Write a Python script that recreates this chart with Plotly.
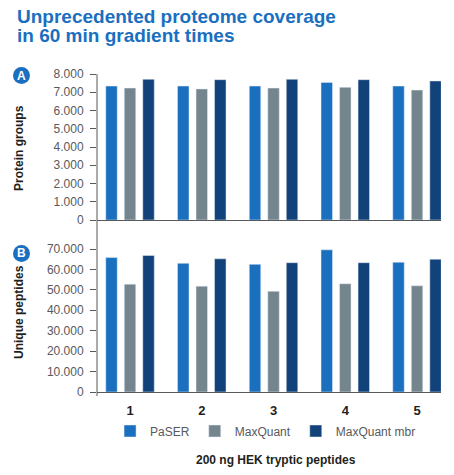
"""
PaSER vs MaxQuant: Protein groups / Unique peptides (60 min gradient).
"""

import plotly.graph_objects as go

runs = ["1", "2", "3", "4", "5"]
series_names = ["PaSER", "MaxQuant", "MaxQuant mbr"]

protein_paser = [7340, 7340, 7340, 7540, 7340]
protein_mq = [7230, 7180, 7230, 7270, 7120]
protein_mbr = [7710, 7690, 7710, 7690, 7620]

peptide_paser = [65800, 63000, 62500, 69600, 63500]
peptide_mq = [52800, 51800, 49300, 53000, 52000]
peptide_mbr = [66800, 65200, 63300, 63300, 65000]

protein_ticks = [0, 1000, 2000, 3000, 4000, 5000, 6000, 7000, 8000]
peptide_ticks = [0, 10000, 20000, 30000, 40000, 50000, 60000, 70000]

COLORS = ["#1b6fbf", "#75858e", "#12427a"]
BLUE = "#1a6fc0"
GREY = "#58595b"
DARK = "#231f20"
FONT = "Liberation Sans, Arial, sans-serif"

# pixel layout helpers
W, H = 454, 475
L, R, T, B = 97, 13, 74, 83
PH = H - T - B  # plot height in px


def py(px_y):
    """page pixel y -> paper y"""
    return (H - B - px_y) / PH


fig = go.Figure()

for name, vals, col in zip(series_names, [protein_paser, protein_mq, protein_mbr], COLORS):
    fig.add_trace(go.Bar(x=runs, y=vals, name=name, marker_color=col,
                         legendgroup=name, showlegend=False,
                         xaxis="x", yaxis="y"))
for name, vals, col in zip(series_names, [peptide_paser, peptide_mq, peptide_mbr], COLORS):
    fig.add_trace(go.Bar(x=runs, y=vals, name=name, marker_color=col,
                         legendgroup=name, showlegend=True,
                         xaxis="x2", yaxis="y2"))

xcommon = dict(
    type="category", range=[-0.46, 4.334], showline=True, linecolor=GREY,
    linewidth=1, ticks="", showgrid=False, zeroline=False, fixedrange=True,
)
ycommon = dict(
    showline=False, ticks="outside", ticklen=6, tickwidth=1, tickcolor=GREY,
    tickfont=dict(family=FONT, size=12, color=GREY), showgrid=False,
    zeroline=False, tickformat=",d", ticklabelstandoff=4,
)

fig.update_layout(
    width=W, height=H,
    margin=dict(l=L, r=R, t=T, b=B),
    paper_bgcolor="white", plot_bgcolor="white",
    separators=",.",
    barmode="group", bargap=0.226, bargroupgap=0.38,
    font=dict(family=FONT, size=12, color=GREY),
    xaxis=dict(**xcommon, anchor="y", domain=[0, 1], showticklabels=False),
    yaxis=dict(**ycommon, anchor="x", domain=[py(220), 1], range=[0, 8000],
               tickvals=protein_ticks),
    xaxis2=dict(**xcommon, anchor="y2", domain=[0, 1], showticklabels=True,
                tickfont=dict(family=FONT, size=13, color=DARK, weight="bold"),
                ticklabelstandoff=6),
    yaxis2=dict(**ycommon, anchor="x2", domain=[0, py(249)], range=[0, 70000],
                tickvals=peptide_ticks),
    legend=dict(orientation="h", x=0.49, xanchor="center", y=py(431),
                yanchor="middle", font=dict(family=FONT, size=12, color=GREY),
                bgcolor="rgba(0,0,0,0)", traceorder="normal"),
    showlegend=True,
)

# one continuous y axis line through both panels
fig.add_shape(type="line", xref="paper", yref="paper", x0=0, x1=0,
              y0=py(396), y1=1, line=dict(color=GREY, width=1))

# panel badges
for letter, cy in [("A", 75.5), ("B", 253.5)]:
    fig.add_shape(type="circle", xref="paper", yref="paper",
                  xsizemode="pixel", ysizemode="pixel",
                  xanchor=0, yanchor=py(cy),
                  x0=13 - L, x1=30 - L, y0=-8.5, y1=8.5,
                  fillcolor=BLUE, line=dict(width=0))
    fig.add_annotation(text=f"<b>{letter}</b>", xref="paper", yref="paper",
                       x=0, xshift=21.5 - L, y=py(cy), showarrow=False,
                       xanchor="center", yanchor="middle",
                       font=dict(family=FONT, size=12, color="white"))

# axis titles
for txt, cy in [("Protein groups", 148), ("Unique peptides", 312)]:
    fig.add_annotation(text=f"<b>{txt}</b>", xref="paper", yref="paper",
                       x=0, xshift=19 - L, y=py(cy), showarrow=False,
                       textangle=-90, xanchor="center", yanchor="middle",
                       font=dict(family=FONT, size=12, color=DARK))

fig.add_annotation(text="<b>200 ng HEK tryptic peptides</b>", xref="paper",
                   yref="paper", x=(276 - L) / (W - L - R), y=py(460),
                   showarrow=False, xanchor="center", yanchor="middle",
                   font=dict(family=FONT, size=12, color=DARK))

# heading, two lines set tight
for txt, cy in [("Unprecedented proteome coverage", 16), ("in 60 min gradient times", 35.5)]:
    fig.add_annotation(text=f"<b>{txt}</b>", xref="paper", yref="paper",
                       x=0, xshift=15 - L, y=py(cy), showarrow=False,
                       xanchor="left", yanchor="middle",
                       font=dict(family=FONT, size=19, color=BLUE))

# page body has a default margin; drop it so the figure sits at 0,0
fig.write_html("out.html", config={"displayModeBar": False},
               post_script="document.body.style.margin='0';")
